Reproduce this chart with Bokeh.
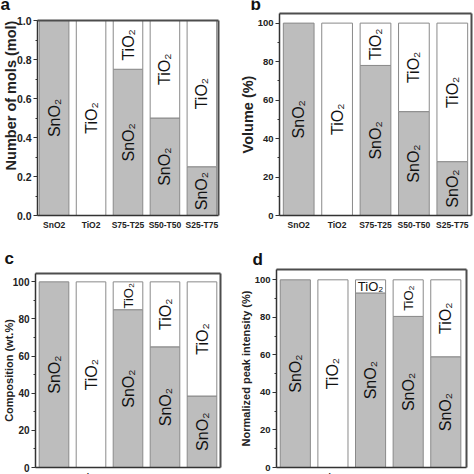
import math
from bokeh.plotting import figure
from bokeh.layouts import gridplot
from bokeh.models import (ColumnDataSource, Range1d, FixedTicker, SingleIntervalTicker,
                          PrintfTickFormatter, Label, LinearAxis)
from bokeh.embed import file_html
from bokeh.resources import INLINE
from bokeh.core.properties import value

# Samples and SnO2 fraction of each, for the four quantities
categories = ["SnO2", "TiO2", "S75-T25", "S50-T50", "S25-T75"]
positions = [1, 2, 3, 4, 5]
mol_sno2 = [1.0, 0.0, 0.75, 0.50, 0.25]
vol_sno2 = [100, 0, 78, 54, 28]
wt_sno2 = [100, 0, 85, 65, 38.5]
peak_sno2 = [100, 0, 93, 80.5, 59]

FONT = "Liberation Sans"
GRAY = "#bdbdbd"
EDGE = "#8a8a8a"
AXIS = "#333333"
FRAME = "#4d4d4d"
SIZE = 237


def panel(letter, letter_xy, ylabel, sno2, total, y_top, interval, fmt, x_lim,
          box, label_size, tick_size, ylabel_center=None):
    """One stacked-bar panel. `box` is the axes rectangle (left, top, right, bottom)
    in the panel's pixels; the ranges are widened so the plot area fills the panel
    and the axes are pinned to the box edges."""
    fl, ft, fr, fb = box
    x0, x1 = x_lim
    y0, y1 = 0, y_top
    sx = (fr - fl) / (x1 - x0)
    sy = (fb - ft) / (y1 - y0)
    xr = Range1d(x0 - fl / sx, x1 + (SIZE - fr) / sx)
    yr = Range1d(y0 - (SIZE - fb) / sy, y1 + ft / sy)

    p = figure(width=SIZE, height=SIZE, output_backend="svg", toolbar_location=None,
               x_range=xr, y_range=yr, min_border=0,
               background_fill_color="white", border_fill_color="white")
    p.grid.visible = False
    p.outline_line_color = None

    # stacked segments: SnO2 from 0, TiO2 on top up to the total
    sn = [(x, v) for x, v in zip(positions, sno2) if v > 0]
    ti = [(x, v) for x, v in zip(positions, sno2) if total - v > 0]
    p.vbar(x=[a for a, _ in sn], bottom=0, top=[v for _, v in sn], width=0.8,
           fill_color=GRAY, line_color=EDGE, line_width=1)
    p.vbar(x=[a for a, _ in ti], bottom=[v for _, v in ti], top=total, width=0.8,
           fill_color="white", line_color=EDGE, line_width=1)

    # segment names written inside the bars
    tx, ty, tt, ta, ts = [], [], [], [], []
    for x, v in sn:
        tx.append(x); ty.append(v / 2); tt.append("SnO\u2082")
        ta.append(math.pi / 2); ts.append("16px")
    for x, v in ti:
        seg = (total - v) / total * 100
        tx.append(x); ty.append((v + total) / 2); tt.append("TiO\u2082")
        ta.append(0.0 if seg < 10 else math.pi / 2)
        ts.append("13px" if seg < 20 else "16px")
    src = ColumnDataSource(dict(x=tx, y=ty, text=tt, angle=ta, size=ts))
    p.text(x="x", y="y", text="text", angle="angle", source=src,
           text_font=value(FONT), text_font_size="size", text_color="#111111",
           text_align="center", text_baseline="middle")

    # left axis
    yax = p.yaxis[0]
    yax.fixed_location = x0
    yax.bounds = (y0, y1)
    yax.ticker = SingleIntervalTicker(interval=interval, num_minor_ticks=2)
    yax.formatter = PrintfTickFormatter(format=fmt)
    yax.major_label_text_font = FONT
    yax.major_label_text_font_style = "bold"
    yax.major_label_text_font_size = tick_size
    yax.major_label_text_color = "#222222"
    yax.major_label_standoff = 2
    yax.major_tick_in = 0
    yax.major_tick_out = 4
    yax.minor_tick_in = 0
    yax.minor_tick_out = 2

    # bottom axis with the sample names
    xax = p.xaxis[0]
    xax.fixed_location = y0
    xax.bounds = (x0, x1)
    xax.ticker = FixedTicker(ticks=positions)
    xax.major_label_overrides = {x: c for x, c in zip(positions, categories)}
    xax.major_label_text_font = FONT
    xax.major_label_text_font_style = "bold"
    xax.major_label_text_font_size = "8.5px"
    xax.major_label_text_color = "#222222"
    xax.major_label_standoff = 4
    xax.major_tick_out = 0
    xax.major_tick_in = 0
    xax.minor_tick_out = 0
    xax.minor_tick_in = 0

    for ax in (yax, xax):
        ax.axis_line_color = AXIS
        ax.axis_line_width = 1.5
        ax.major_tick_line_color = AXIS
        ax.minor_tick_line_color = AXIS

    # closing lines of the box on the right and at the top
    p.add_layout(LinearAxis(fixed_location=x1, bounds=(y0, y1),
                            ticker=FixedTicker(ticks=[]), axis_line_color=FRAME,
                            axis_line_width=2, major_tick_out=0, minor_tick_out=0),
                 "right")
    p.add_layout(LinearAxis(fixed_location=y1, bounds=(x0, x1),
                            ticker=FixedTicker(ticks=[]), axis_line_color=FRAME,
                            axis_line_width=2, major_tick_out=0, minor_tick_out=0),
                 "above")

    label_style = dict(text_font=FONT, text_font_style="bold",
                       text_font_size=label_size, text_color="#222222")
    if ylabel_center is None:
        ylabel_center = (ft + fb) / 2
    p.add_layout(Label(x=2, y=ylabel_center, x_units="canvas", y_units="canvas",
                       text=ylabel, angle=math.pi / 2, text_align="center",
                       text_baseline="top", **label_style))

    p.add_layout(Label(x=letter_xy[0], y=letter_xy[1], x_units="canvas",
                       y_units="canvas", text=letter,
                       text_font=FONT, text_font_style="bold", text_font_size="17px",
                       text_color="#111111", text_baseline="alphabetic"))
    return p


pa = panel("a", (0, 4), "Number of mols (mol)", mol_sno2, 1.0, 1.0, 0.2, "%.1f",
           (0.55, 5.45), (37, 20, 218, 215), "14.5px", "10.5px", ylabel_center=95)
pb = panel("b", (13, 4), "Volume (%)", vol_sno2, 100, 105, 20, "%d",
           (0.5, 5.5), (42, 13, 234, 215), "14.5px", "9.5px")
pc = panel("c", (4, 21), "Composition (wt.%)", wt_sno2, 100, 104.5, 20, "%d",
           (0.5, 5.5), (35, 36, 220, 230), "11px", "10px")
pd = panel("d", (15, 22), "Normalized peak intensity (%)", peak_sno2, 100, 105.5, 20, "%d",
           (0.5, 5.55), (39, 32, 229, 230), "11px", "9.5px")

layout = gridplot([[pa, pb], [pc, pd]], toolbar_location=None)
open("out.html", "w").write(file_html(layout, INLINE))
